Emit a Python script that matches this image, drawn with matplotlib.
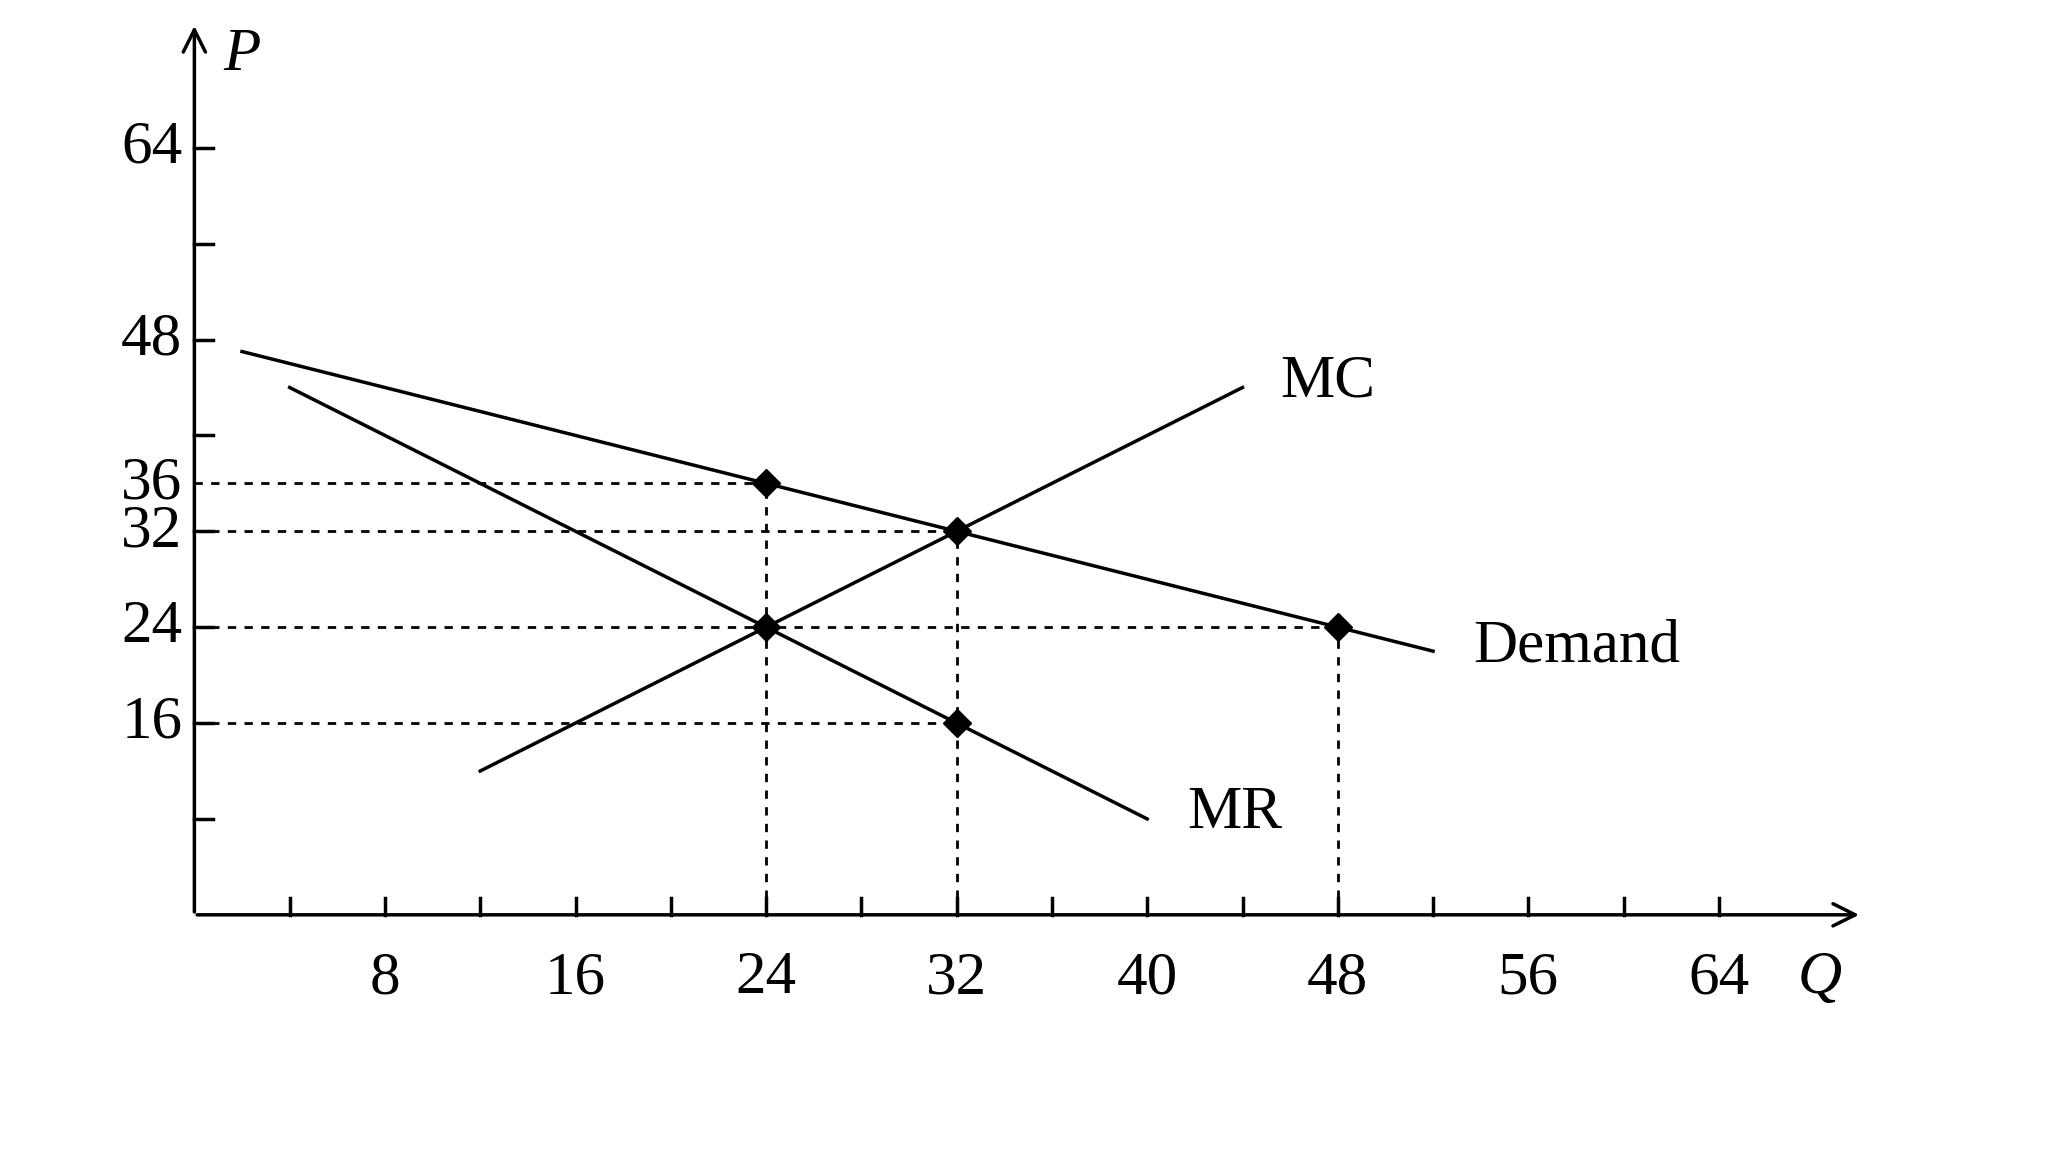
import matplotlib
matplotlib.use("Agg")
import matplotlib.pyplot as plt

demand_q = [2, 52]; demand_p = [47, 22]
mr_q = [4, 40]; mr_p = [44, 8]
mc_q = [12, 44]; mc_p = [12, 44]
pts_q = [24, 32, 24, 32, 48]
pts_p = [36, 32, 24, 16, 24]
hdash = [(36, 24), (32, 32), (24, 48), (16, 32)]
vdash = [(24, 36), (32, 32), (48, 24)]
xlabels = [8, 16, 24, 32, 40, 48, 56, 64]
ylabels = [16, 24, 32, 36, 48, 64]

plt.rcParams['font.family'] = ['Liberation Serif', 'DejaVu Serif']
fs = 44
fig = plt.figure(figsize=(20.46, 11.58), dpi=100)
ax = fig.add_axes([0.095, 0.21, 0.815, 0.77])
ax.set_xlim(0, 70); ax.set_ylim(0, 74.4)
for s in ax.spines.values(): s.set_visible(False)
ax.set_xticks([]); ax.set_yticks([])
ax.annotate('', xy=(70, 0), xytext=(0, 0), arrowprops=dict(arrowstyle='->', lw=2.5, mutation_scale=40), annotation_clip=False)
ax.annotate('', xy=(0, 74.4), xytext=(0, 0), arrowprops=dict(arrowstyle='->', lw=2.5, mutation_scale=40), annotation_clip=False)
for q in range(4, 68, 4):
    ax.plot([q, q], [0, 1.4], color='black', lw=2.5, clip_on=False)
for p in range(8, 68, 8):
    ax.plot([0, 0.8], [p, p], color='black', lw=2.5, clip_on=False)
for q in xlabels:
    ax.text(q, -3.0, str(q), ha='center', va='top', fontsize=fs)
for p in ylabels:
    ax.text(-0.5, p, str(p), ha='right', va='center', fontsize=fs)
ax.text(1.2, 74, 'P', fontsize=fs, style='italic', va='top')
ax.text(67.3, -3.0, 'Q', fontsize=fs, style='italic', va='top')
for p, q in hdash:
    ax.plot([0, q], [p, p], color='black', lw=2, ls=(0, (3, 3)))
for q, p in vdash:
    ax.plot([q, q], [0, p], color='black', lw=2, ls=(0, (3, 3)))
ax.plot(demand_q, demand_p, color='black', lw=2.5)
ax.plot(mr_q, mr_p, color='black', lw=2.5)
ax.plot(mc_q, mc_p, color='black', lw=2.5)
ax.plot(pts_q, pts_p, 'D', color='black', ms=14, ls='none')
ax.text(45.6, 44.5, 'MC', fontsize=fs, va='center')
ax.text(53.7, 22.4, 'Demand', fontsize=fs, va='center')
ax.text(41.7, 8.5, 'MR', fontsize=fs, va='center')
fig.savefig('out.png', dpi=100, facecolor='white')
